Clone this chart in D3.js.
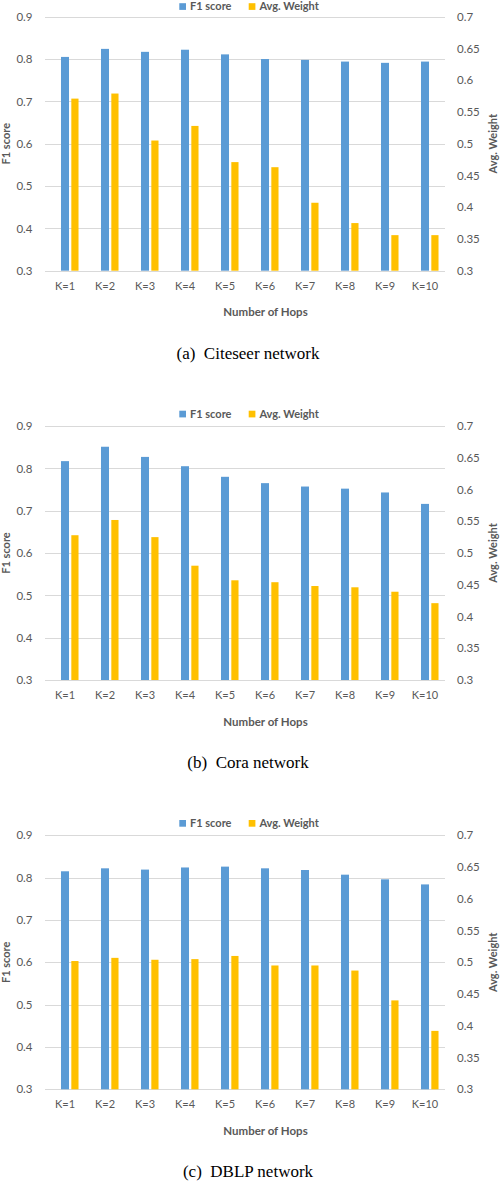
<!DOCTYPE html>
<html>
<head>
<meta charset="utf-8">
<script src="https://cdn.jsdelivr.net/npm/d3@7"></script>
<style>
  html, body { margin: 0; padding: 0; background: #fff; }
  svg { display: block; }
</style>
</head>
<body>
<svg id="chart" width="500" height="1182"></svg>
<script>
const categories = ["K=1","K=2","K=3","K=4","K=5","K=6","K=7","K=8","K=9","K=10"];
const leftTicks = [0.3, 0.4, 0.5, 0.6, 0.7, 0.8, 0.9];
const rightTicks = [0.3, 0.35, 0.4, 0.45, 0.5, 0.55, 0.6, 0.65, 0.7];
const seriesNames = ["F1 score", "Avg. Weight"];

const citeseerF1 = [0.805, 0.824, 0.817, 0.822, 0.811, 0.800, 0.798, 0.794, 0.791, 0.794];
const citeseerWeight = [0.571, 0.579, 0.505, 0.528, 0.471, 0.463, 0.407, 0.375, 0.356, 0.356];
const coraF1 = [0.817, 0.851, 0.827, 0.805, 0.780, 0.765, 0.757, 0.752, 0.743, 0.716];
const coraWeight = [0.528, 0.552, 0.525, 0.480, 0.457, 0.454, 0.448, 0.446, 0.439, 0.421];
const dblpF1 = [0.815, 0.822, 0.819, 0.824, 0.826, 0.822, 0.818, 0.807, 0.796, 0.784];
const dblpWeight = [0.502, 0.507, 0.504, 0.505, 0.510, 0.495, 0.495, 0.487, 0.440, 0.392];
const captions = ["(a)\u2002Citeseer network", "(b)\u2002Cora network", "(c)\u2002DBLP network"];

const panels = [
  { f1: citeseerF1, w: citeseerWeight, caption: captions[0], top: 16.7 },
  { f1: coraF1, w: coraWeight, caption: captions[1], top: 426 },
  { f1: dblpF1, w: dblpWeight, caption: captions[2], top: 835.3 }
];

const BLUE = "#5B9BD5", YELLOW = "#FFC000", GRID = "#D9D9D9", TEXT = "#595959";
const sansFont = "Lato, 'Open Sans', sans-serif";
const serifFont = "'Liberation Serif', 'DejaVu Serif', serif";
const svg = d3.select("#chart");
const plotH = 254;
const fmt = d3.format("~g");

panels.forEach(p => {
  const g = svg.append("g");
  const top = p.top, bottom = top + plotH;
  const x = d3.scaleBand().domain(categories).range([45, 445]);
  const yL = d3.scaleLinear().domain([0.3, 0.9]).range([bottom, top]);
  const yR = d3.scaleLinear().domain([0.3, 0.7]).range([bottom, top]);
  const bw = x.bandwidth();
  const blueW = bw * 0.2, gap = bw * 0.058, yellowW = bw * 0.18;

  // gridlines
  g.append("g").selectAll("line").data(leftTicks).join("line")
    .attr("x1", 45).attr("x2", 445)
    .attr("y1", d => Math.round(yL(d)) + 0.5).attr("y2", d => Math.round(yL(d)) + 0.5)
    .attr("stroke", GRID).attr("stroke-width", 1);

  // left axis labels
  const axL = d3.axisLeft(yL).tickValues(leftTicks).tickFormat(fmt).tickSize(0).tickPadding(0);
  const gL = g.append("g").attr("transform", "translate(32.5,0)").call(axL);
  gL.select(".domain").remove();
  gL.selectAll("text").attr("fill", TEXT).style("font-family", sansFont).style("font-size", "11.5px");

  // right axis labels
  const axR = d3.axisRight(yR).tickValues(rightTicks).tickFormat(fmt).tickSize(0).tickPadding(0);
  const gR = g.append("g").attr("transform", "translate(457,0)").call(axR);
  gR.select(".domain").remove();
  gR.selectAll("text").attr("fill", TEXT).style("font-family", sansFont).style("font-size", "11.5px");

  // bars
  g.append("g").selectAll("rect").data(p.f1).join("rect")
    .attr("x", (d, i) => x(categories[i]) + bw / 2 - blueW / 2)
    .attr("width", blueW)
    .attr("y", d => yL(d)).attr("height", d => bottom - yL(d))
    .attr("fill", BLUE);
  g.append("g").selectAll("rect").data(p.w).join("rect")
    .attr("x", (d, i) => x(categories[i]) + bw / 2 + blueW / 2 + gap)
    .attr("width", yellowW)
    .attr("y", d => yR(d)).attr("height", d => bottom - yR(d))
    .attr("fill", YELLOW);

  // x axis labels
  const axX = d3.axisBottom(x).tickSize(0).tickPadding(0);
  const gX = g.append("g").attr("transform", `translate(0,${bottom + 11})`).call(axX);
  gX.select(".domain").remove();
  gX.selectAll("text").attr("fill", TEXT).style("font-family", sansFont).style("font-size", "11px");

  // axis titles
  g.append("text").attr("x", 265.5).attr("y", bottom + 41.5).attr("dy", "0.35em")
    .attr("text-anchor", "middle").attr("fill", TEXT)
    .style("font-family", sansFont).style("font-size", "11.5px").style("font-weight", "bold")
    .text("Number of Hops");
  g.append("text").attr("transform", `translate(6.5,${top + 127}) rotate(-90)`).attr("dy", "0.35em")
    .attr("text-anchor", "middle").attr("fill", TEXT)
    .style("font-family", sansFont).style("font-size", "11px").style("font-weight", "bold")
    .text("F1 score");
  g.append("text").attr("transform", `translate(493,${top + 127}) rotate(-90)`).attr("dy", "0.35em")
    .attr("text-anchor", "middle").attr("fill", TEXT)
    .style("font-family", sansFont).style("font-size", "11px").style("font-weight", "bold")
    .text("Avg. Weight");

  // legend
  const lg = g.append("g").attr("transform", `translate(0,${Math.max(top - 12, 6.5)})`);
  const legendItems = [
    { name: seriesNames[0], color: BLUE, x: 179.3 },
    { name: seriesNames[1], color: YELLOW, x: 248.7 }
  ];
  legendItems.forEach(it => {
    lg.append("rect").attr("x", it.x).attr("y", -3.3).attr("width", 6.7).attr("height", 6.7).attr("fill", it.color);
    lg.append("text").attr("x", it.x + 10.7).attr("y", 0).attr("dy", "0.35em")
      .attr("fill", TEXT).style("font-family", sansFont).style("font-size", "11px").style("font-weight", "bold")
      .text(it.name);
  });

  // caption
  g.append("text").attr("x", 248).attr("y", bottom + 82).attr("dy", "0.35em")
    .attr("text-anchor", "middle").attr("fill", "#000")
    .style("font-family", serifFont).style("font-size", "17px")
    .text(p.caption);
});
</script>
</body>
</html>
